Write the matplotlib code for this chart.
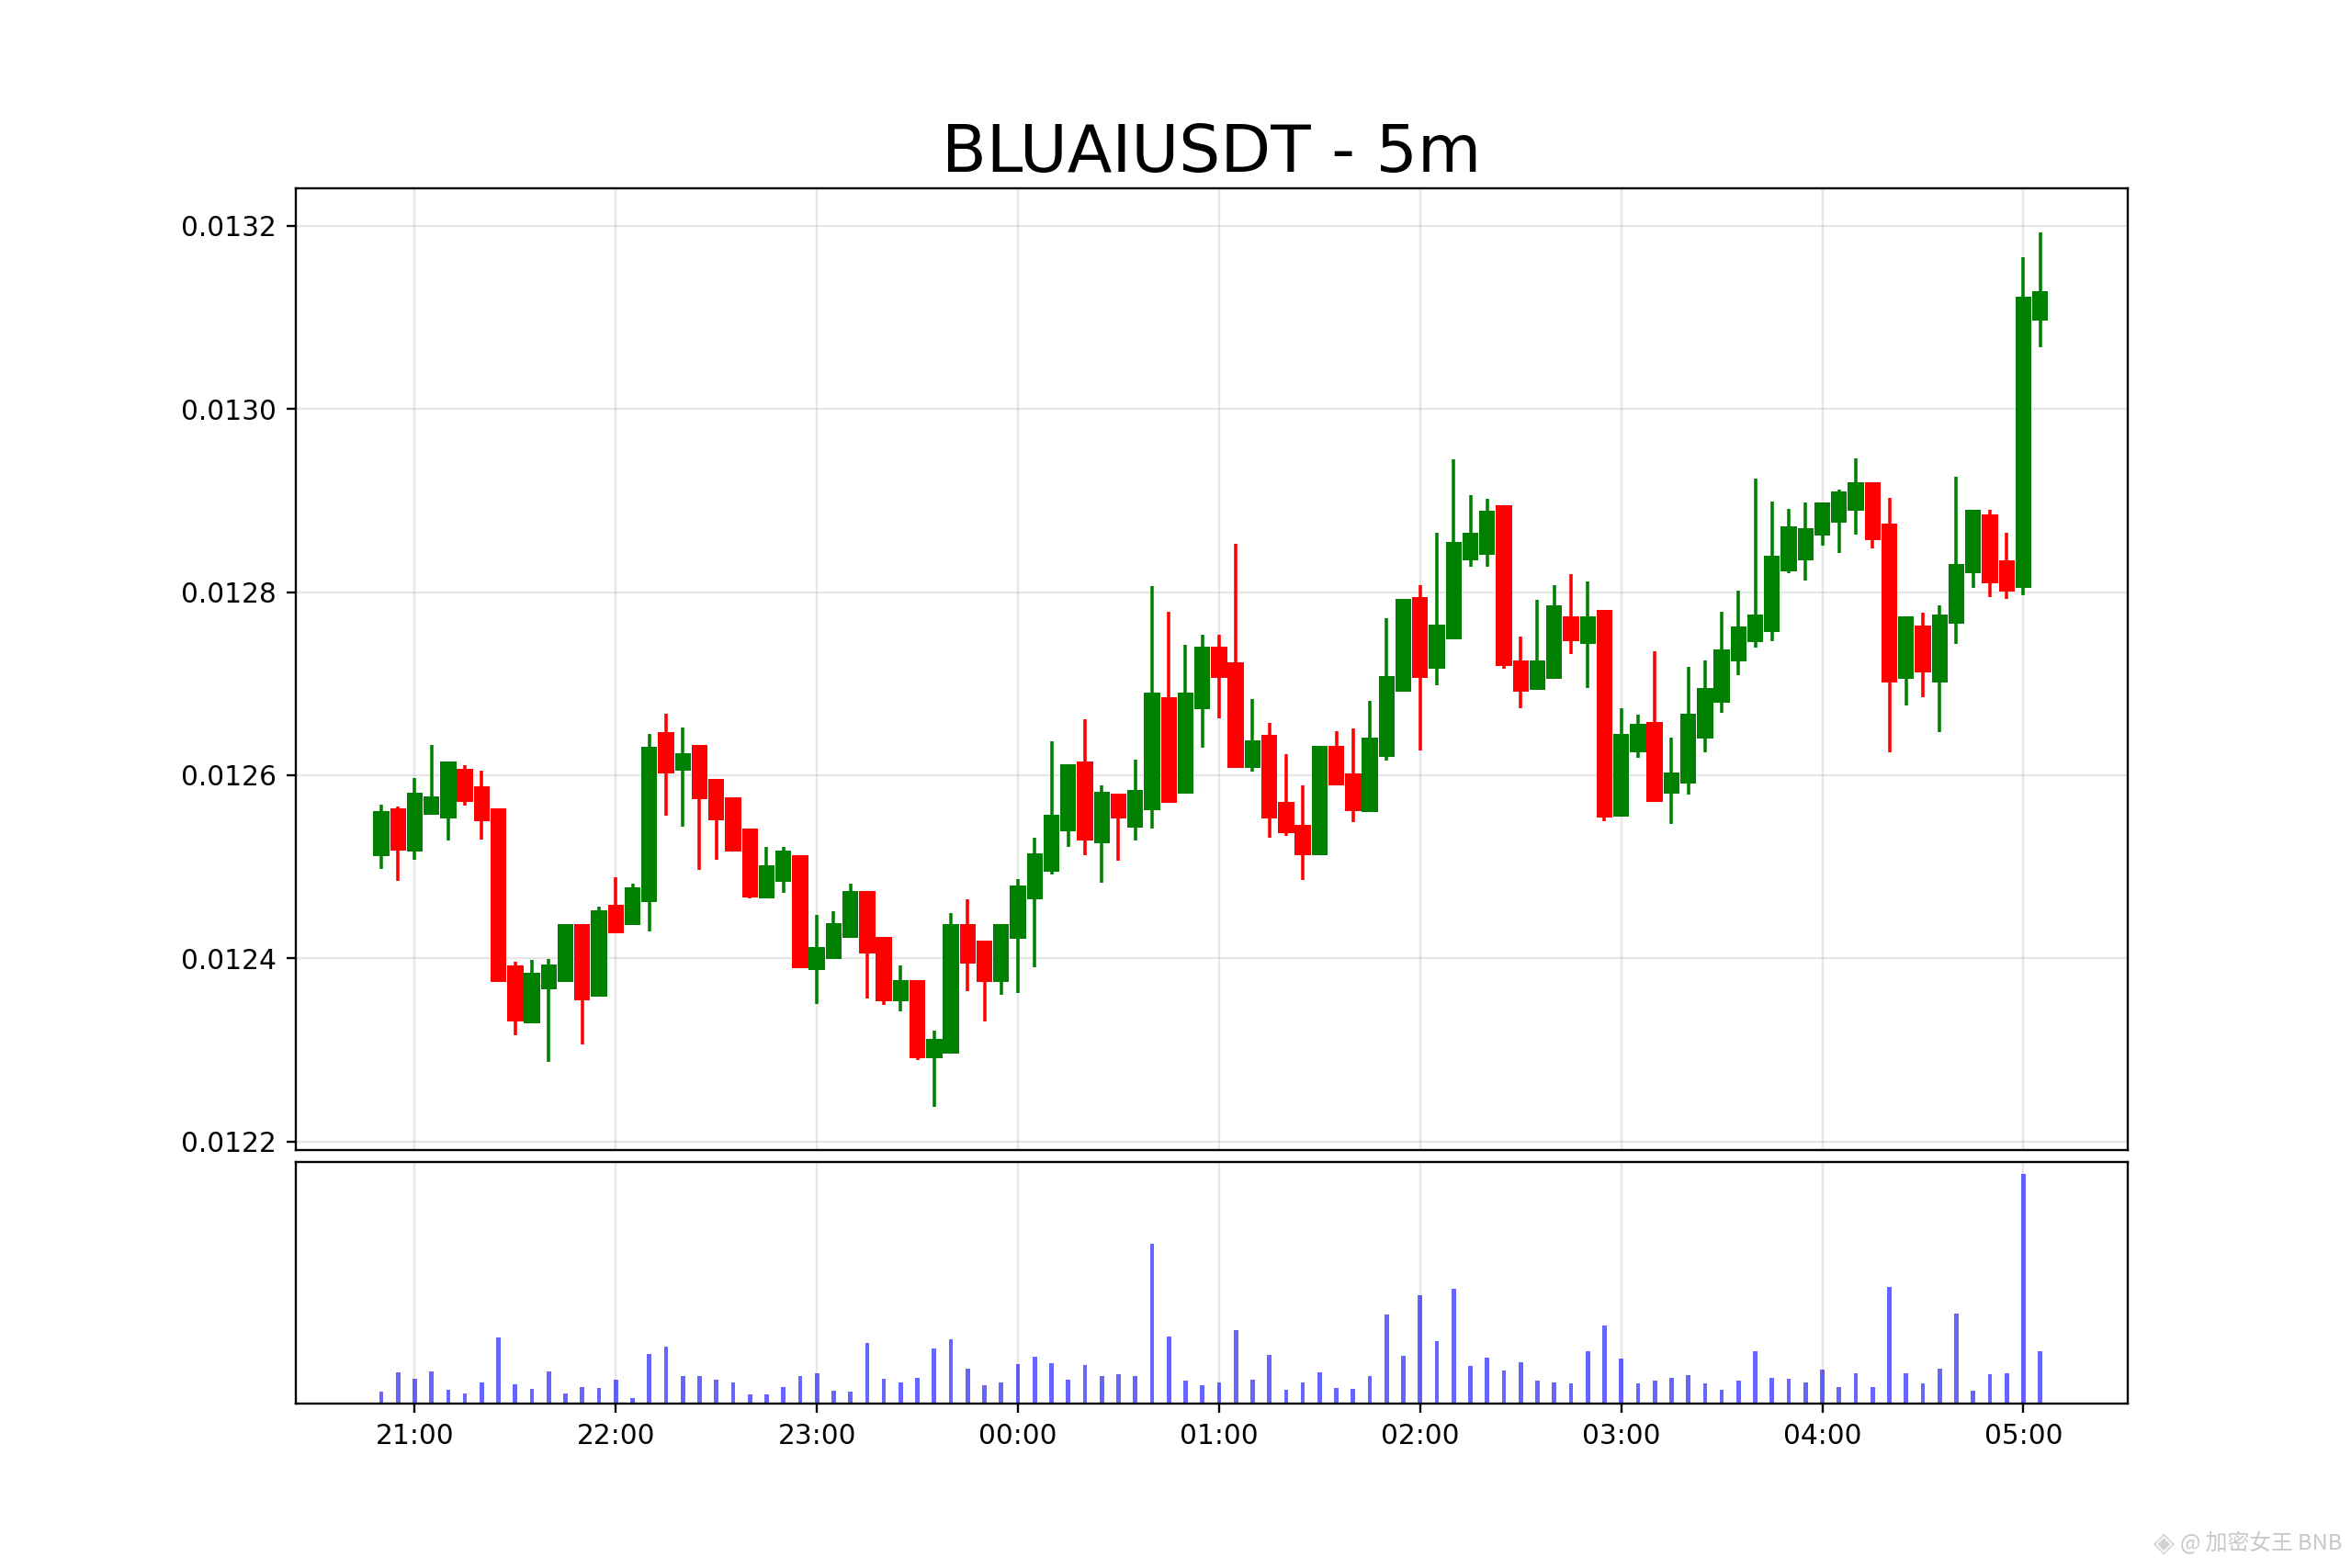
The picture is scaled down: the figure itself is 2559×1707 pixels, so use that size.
import matplotlib
matplotlib.use("Agg")
import matplotlib.pyplot as plt
import matplotlib.dates as mdates
import numpy as np
import pandas as pd

title = "BLUAIUSDT - 5m"
start_time = "2025-01-01 20:50"
n_candles = 100

opens = [12512, 12564, 12517, 12557, 12553, 12607, 12588, 12564, 12392, 12329,
         12366, 12374, 12437, 12358, 12459, 12436, 12462, 12647, 12605, 12633,
         12596, 12576, 12542, 12466, 12484, 12513, 12387, 12399, 12422, 12474,
         12423, 12353, 12376, 12291, 12296, 12437, 12419, 12374, 12421, 12465,
         12495, 12539, 12615, 12526, 12580, 12543, 12562, 12685, 12580, 12672,
         12740, 12723, 12608, 12644, 12571, 12546, 12513, 12632, 12602, 12560,
         12620, 12691, 12795, 12716, 12748, 12835, 12841, 12895, 12725, 12693,
         12705, 12773, 12743, 12780, 12555, 12625, 12658, 12580, 12591, 12640,
         12679, 12724, 12745, 12756, 12823, 12835, 12862, 12876, 12889, 12920,
         12875, 12705, 12763, 12701, 12765, 12821, 12885, 12835, 12805, 13096]
highs = [12568, 12566, 12597, 12633, 12615, 12611, 12605, 12564, 12396, 12398,
         12399, 12437, 12437, 12456, 12489, 12482, 12645, 12667, 12652, 12633,
         12596, 12576, 12542, 12522, 12522, 12513, 12447, 12451, 12482, 12474,
         12423, 12392, 12376, 12321, 12449, 12465, 12419, 12437, 12487, 12532,
         12637, 12612, 12661, 12589, 12580, 12617, 12807, 12778, 12742, 12753,
         12753, 12853, 12683, 12657, 12623, 12589, 12632, 12648, 12651, 12681,
         12771, 12793, 12808, 12865, 12945, 12906, 12902, 12895, 12751, 12792,
         12808, 12820, 12812, 12780, 12673, 12666, 12735, 12641, 12718, 12725,
         12778, 12802, 12924, 12899, 12891, 12898, 12898, 12912, 12946, 12920,
         12903, 12773, 12777, 12786, 12926, 12890, 12890, 12865, 13166, 13193]
lows = [12498, 12485, 12508, 12557, 12529, 12567, 12530, 12374, 12316, 12329,
        12287, 12374, 12306, 12358, 12427, 12436, 12429, 12556, 12544, 12497,
        12508, 12517, 12466, 12466, 12472, 12389, 12350, 12399, 12422, 12356,
        12349, 12342, 12289, 12238, 12296, 12364, 12331, 12360, 12362, 12390,
        12492, 12522, 12513, 12483, 12507, 12529, 12542, 12570, 12580, 12630,
        12662, 12608, 12604, 12532, 12534, 12486, 12513, 12589, 12549, 12560,
        12616, 12691, 12627, 12698, 12748, 12828, 12828, 12716, 12673, 12693,
        12705, 12732, 12695, 12550, 12555, 12619, 12571, 12547, 12579, 12625,
        12668, 12709, 12739, 12746, 12821, 12813, 12851, 12843, 12863, 12848,
        12625, 12676, 12685, 12647, 12743, 12805, 12795, 12793, 12797, 13067]
closes = [12561, 12518, 12581, 12577, 12615, 12571, 12550, 12374, 12331, 12384,
          12393, 12437, 12354, 12452, 12427, 12478, 12631, 12602, 12624, 12574,
          12551, 12517, 12467, 12502, 12518, 12389, 12412, 12438, 12474, 12405,
          12353, 12376, 12291, 12312, 12437, 12394, 12374, 12437, 12480, 12515,
          12557, 12612, 12529, 12582, 12553, 12584, 12690, 12570, 12690, 12740,
          12706, 12608, 12638, 12553, 12537, 12513, 12632, 12589, 12561, 12641,
          12708, 12793, 12706, 12764, 12855, 12865, 12889, 12719, 12691, 12725,
          12786, 12746, 12773, 12554, 12645, 12656, 12571, 12603, 12667, 12695,
          12737, 12762, 12775, 12840, 12872, 12870, 12898, 12910, 12920, 12857,
          12701, 12773, 12712, 12775, 12831, 12890, 12810, 12801, 13123, 13129]
volumes = [39, 102, 81, 104, 45, 32, 68, 213, 62, 47,
           105, 32, 55, 51, 79, 18, 162, 186, 90, 90,
           77, 69, 31, 31, 55, 89, 99, 42, 38, 198,
           81, 68, 85, 180, 207, 112, 60, 68, 129, 151,
           132, 77, 126, 89, 96, 90, 519, 216, 75, 60,
           69, 237, 78, 159, 46, 68, 102, 51, 47, 89,
           290, 156, 350, 204, 371, 123, 150, 108, 135, 75,
           69, 66, 171, 252, 147, 66, 76, 84, 92, 66,
           46, 76, 171, 83, 81, 68, 109, 54, 98, 54,
           378, 99, 66, 114, 293, 42, 96, 98, 744, 171]

scale = 1e-6
o = np.array(opens) * scale
h = np.array(highs) * scale
l = np.array(lows) * scale
c = np.array(closes) * scale
v = np.array(volumes, dtype=float)

times = pd.date_range(start_time, periods=n_candles, freq="5min")
x = mdates.date2num(times.to_pydatetime())
interval = 5 / (24 * 60)

up = c >= o
colors = np.where(up, "green", "red")

fig = plt.figure(figsize=(12, 8.0016), dpi=213.3333)
ax = fig.add_axes([0.1256, 0.2663, 0.7789, 0.6135])
axv = fig.add_axes([0.1256, 0.1048, 0.7789, 0.1539], sharex=ax)

ax.vlines(x, l, h, colors=colors, linewidth=1.2, zorder=2)
ax.bar(x, np.abs(c - o), bottom=np.minimum(o, c), width=interval * 0.95,
       color=colors, linewidth=0, zorder=3)

axv.bar(x, v, width=0.0009, color="blue", alpha=0.6, linewidth=0)

pad_left = pd.Timedelta(minutes=25.6)
pad_right = pd.Timedelta(minutes=26.0)
ax.set_xlim(mdates.date2num((times[0] - pad_left).to_pydatetime()),
            mdates.date2num((times[-1] + pad_right).to_pydatetime()))

ax.set_title(title, fontsize=24, pad=6)
ax.grid(True, alpha=0.3)
axv.grid(True, axis="x", alpha=0.3)
ax.tick_params(axis="x", bottom=False, labelbottom=False)
ax.tick_params(labelsize=10)
axv.tick_params(labelsize=10)
axv.set_yticks([])
axv.xaxis.set_major_locator(mdates.HourLocator())
axv.xaxis.set_major_formatter(mdates.DateFormatter("%H:%M"))
ax.set_axisbelow(True)
axv.set_axisbelow(True)

fig.text(0.9245, 0.0158, "◈", ha="right", va="center", color="#d2d2d2", fontsize=10,
         family=["DejaVu Sans"])
fig.text(0.996, 0.0158, "@ 加密女王 BNB", ha="right", va="center", color="#c8c8c8",
         fontsize=8, family=["Noto Sans CJK SC", "DejaVu Sans"])

fig.savefig("out.png", dpi=213.3333)
